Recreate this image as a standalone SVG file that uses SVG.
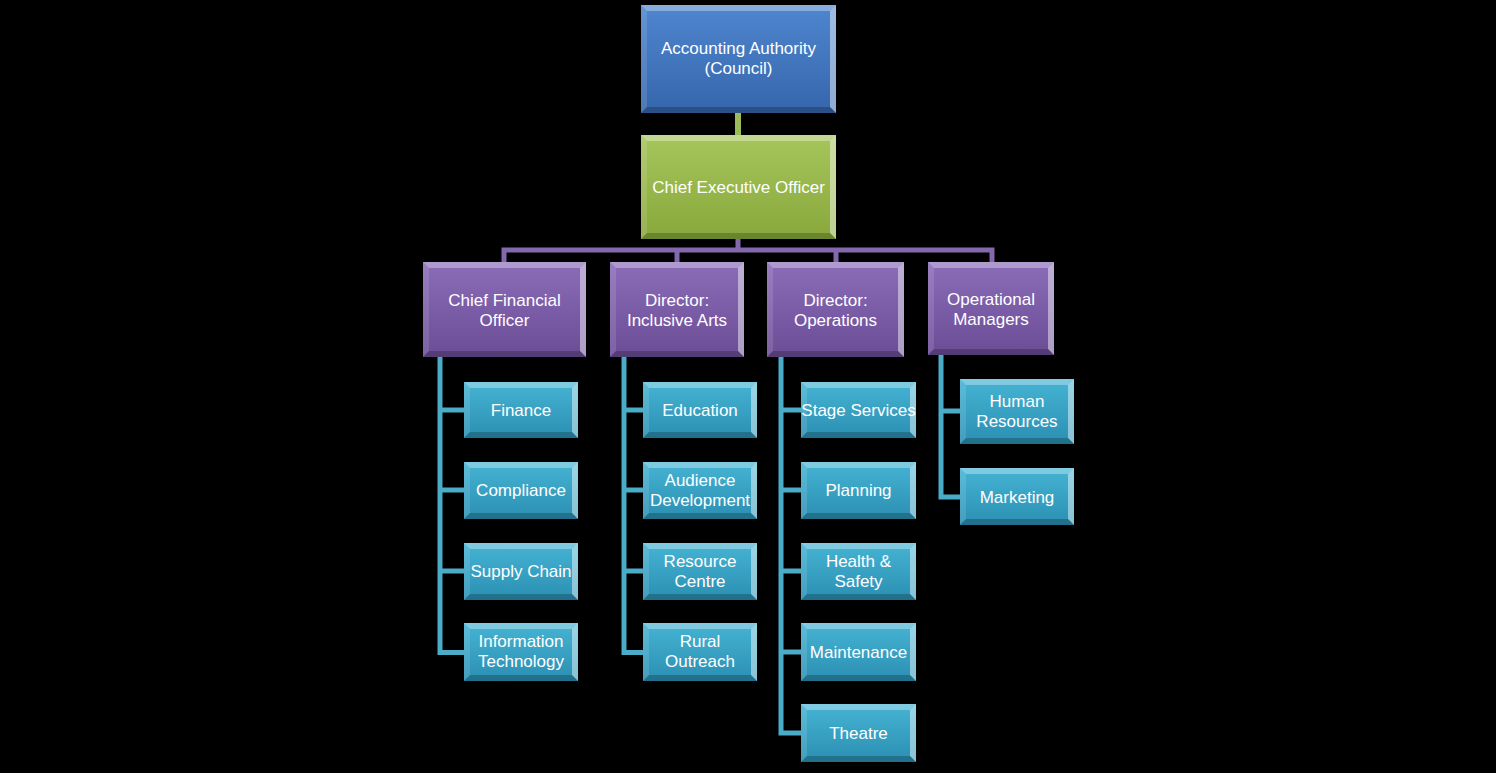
<svg xmlns="http://www.w3.org/2000/svg" width="1496" height="773" viewBox="0 0 1496 773">
<defs>
<linearGradient id="gBlue" x1="0" y1="0" x2="0" y2="1"><stop offset="0" stop-color="#4f86cf"/><stop offset="1" stop-color="#3566ac"/></linearGradient>
<linearGradient id="gGreen" x1="0" y1="0" x2="0" y2="1"><stop offset="0" stop-color="#a6c65c"/><stop offset="1" stop-color="#88a83c"/></linearGradient>
<linearGradient id="gPurple" x1="0" y1="0" x2="0" y2="1"><stop offset="0" stop-color="#8b6cb8"/><stop offset="1" stop-color="#6b4d96"/></linearGradient>
<linearGradient id="gCyan" x1="0" y1="0" x2="0" y2="1"><stop offset="0" stop-color="#46b4d4"/><stop offset="1" stop-color="#2b8fb2"/></linearGradient>
</defs>
<style>
.bg{fill:#000}
.t{font-family:"Liberation Sans",Arial,sans-serif;font-size:17px;fill:#fff;text-anchor:middle;dominant-baseline:central}
.bt{fill:#fff;fill-opacity:.32}
.bl{fill:#fff;fill-opacity:.12}
.br{fill:#fff;fill-opacity:.45}
.bb{fill:#000;fill-opacity:.22}
.cg{stroke:#9bbb59;stroke-width:6;fill:none}
.cp{stroke:#8368ad;stroke-width:5;fill:none}
.cc{stroke:#4aacc6;stroke-width:5;fill:none;stroke-linejoin:miter}
</style>
<rect class="bg" x="0" y="0" width="1496" height="773"/>
<g id="connectors">
<line class="cg" x1="738" y1="113" x2="738" y2="135"/>
<path class="cp" d="M738 239V250M504 262V250H992V262M677 250V262M836 250V262"/>
<path class="cc" d="M440 357V652.5H464M440 410H464M440 490H464M440 571H464"/>
<path class="cc" d="M624 357V652.5H643M624 410H643M624 490H643M624 571H643"/>
<path class="cc" d="M781 357V733H801M781 410H801M781 490H801M781 571H801M781 652H801"/>
<path class="cc" d="M941 355V497H960M941 411H960"/>
</g>
<g id="n-council">
<rect x="641" y="5" width="195" height="108" fill="url(#gBlue)"/>
<polygon class="bt" points="641,5 836,5 830,11 647,11"/><polygon class="bl" points="641,5 647,11 647,107 641,113"/><polygon class="br" points="836,5 836,113 830,107 830,11"/><polygon class="bb" points="641,113 836,113 830,107 647,107"/>
<text class="t" x="738.5" y="48">Accounting Authority</text><text class="t" x="738.5" y="68">(Council)</text>
</g>
<g id="n-ceo">
<rect x="641" y="135" width="195" height="104" fill="url(#gGreen)"/>
<polygon class="bt" points="641,135 836,135 830,141 647,141"/><polygon class="bl" points="641,135 647,141 647,233 641,239"/><polygon class="br" points="836,135 836,239 830,233 830,141"/><polygon class="bb" points="641,239 836,239 830,233 647,233"/>
<text class="t" x="738.5" y="187">Chief Executive Officer</text>
</g>
<g id="n-cfo">
<rect x="423" y="262" width="163" height="95" fill="url(#gPurple)"/>
<polygon class="bt" points="423,262 586,262 580,268 429,268"/><polygon class="bl" points="423,262 429,268 429,351 423,357"/><polygon class="br" points="586,262 586,357 580,351 580,268"/><polygon class="bb" points="423,357 586,357 580,351 429,351"/>
<text class="t" x="504.5" y="300">Chief Financial</text><text class="t" x="504.5" y="320">Officer</text>
</g>
<g id="n-dia">
<rect x="610" y="262" width="134" height="95" fill="url(#gPurple)"/>
<polygon class="bt" points="610,262 744,262 738,268 616,268"/><polygon class="bl" points="610,262 616,268 616,351 610,357"/><polygon class="br" points="744,262 744,357 738,351 738,268"/><polygon class="bb" points="610,357 744,357 738,351 616,351"/>
<text class="t" x="677" y="300">Director:</text><text class="t" x="677" y="320">Inclusive Arts</text>
</g>
<g id="n-dops">
<rect x="767" y="262" width="137" height="95" fill="url(#gPurple)"/>
<polygon class="bt" points="767,262 904,262 898,268 773,268"/><polygon class="bl" points="767,262 773,268 773,351 767,357"/><polygon class="br" points="904,262 904,357 898,351 898,268"/><polygon class="bb" points="767,357 904,357 898,351 773,351"/>
<text class="t" x="835.5" y="300">Director:</text><text class="t" x="835.5" y="320">Operations</text>
</g>
<g id="n-om">
<rect x="928" y="262" width="126" height="93" fill="url(#gPurple)"/>
<polygon class="bt" points="928,262 1054,262 1048,268 934,268"/><polygon class="bl" points="928,262 934,268 934,349 928,355"/><polygon class="br" points="1054,262 1054,355 1048,349 1048,268"/><polygon class="bb" points="928,355 1054,355 1048,349 934,349"/>
<text class="t" x="991" y="299">Operational</text><text class="t" x="991" y="319">Managers</text>
</g>
<g id="n-finance">
<rect x="464" y="382" width="114" height="56" fill="url(#gCyan)"/>
<polygon class="bt" points="464,382 578,382 572,388 470,388"/><polygon class="bl" points="464,382 470,388 470,432 464,438"/><polygon class="br" points="578,382 578,438 572,432 572,388"/><polygon class="bb" points="464,438 578,438 572,432 470,432"/>
<text class="t" x="521" y="410">Finance</text>
</g>
<g id="n-compliance">
<rect x="464" y="462" width="114" height="57" fill="url(#gCyan)"/>
<polygon class="bt" points="464,462 578,462 572,468 470,468"/><polygon class="bl" points="464,462 470,468 470,513 464,519"/><polygon class="br" points="578,462 578,519 572,513 572,468"/><polygon class="bb" points="464,519 578,519 572,513 470,513"/>
<text class="t" x="521" y="490">Compliance</text>
</g>
<g id="n-supply">
<rect x="464" y="543" width="114" height="57" fill="url(#gCyan)"/>
<polygon class="bt" points="464,543 578,543 572,549 470,549"/><polygon class="bl" points="464,543 470,549 470,594 464,600"/><polygon class="br" points="578,543 578,600 572,594 572,549"/><polygon class="bb" points="464,600 578,600 572,594 470,594"/>
<text class="t" x="521" y="571">Supply Chain</text>
</g>
<g id="n-it">
<rect x="464" y="623" width="114" height="58" fill="url(#gCyan)"/>
<polygon class="bt" points="464,623 578,623 572,629 470,629"/><polygon class="bl" points="464,623 470,629 470,675 464,681"/><polygon class="br" points="578,623 578,681 572,675 572,629"/><polygon class="bb" points="464,681 578,681 572,675 470,675"/>
<text class="t" x="521" y="641">Information</text><text class="t" x="521" y="661">Technology</text>
</g>
<g id="n-education">
<rect x="643" y="382" width="114" height="56" fill="url(#gCyan)"/>
<polygon class="bt" points="643,382 757,382 751,388 649,388"/><polygon class="bl" points="643,382 649,388 649,432 643,438"/><polygon class="br" points="757,382 757,438 751,432 751,388"/><polygon class="bb" points="643,438 757,438 751,432 649,432"/>
<text class="t" x="700" y="410">Education</text>
</g>
<g id="n-audience">
<rect x="643" y="462" width="114" height="57" fill="url(#gCyan)"/>
<polygon class="bt" points="643,462 757,462 751,468 649,468"/><polygon class="bl" points="643,462 649,468 649,513 643,519"/><polygon class="br" points="757,462 757,519 751,513 751,468"/><polygon class="bb" points="643,519 757,519 751,513 649,513"/>
<text class="t" x="700" y="480">Audience</text><text class="t" x="700" y="500">Development</text>
</g>
<g id="n-resource">
<rect x="643" y="543" width="114" height="57" fill="url(#gCyan)"/>
<polygon class="bt" points="643,543 757,543 751,549 649,549"/><polygon class="bl" points="643,543 649,549 649,594 643,600"/><polygon class="br" points="757,543 757,600 751,594 751,549"/><polygon class="bb" points="643,600 757,600 751,594 649,594"/>
<text class="t" x="700" y="561">Resource</text><text class="t" x="700" y="581">Centre</text>
</g>
<g id="n-rural">
<rect x="643" y="623" width="114" height="58" fill="url(#gCyan)"/>
<polygon class="bt" points="643,623 757,623 751,629 649,629"/><polygon class="bl" points="643,623 649,629 649,675 643,681"/><polygon class="br" points="757,623 757,681 751,675 751,629"/><polygon class="bb" points="643,681 757,681 751,675 649,675"/>
<text class="t" x="700" y="641">Rural</text><text class="t" x="700" y="661">Outreach</text>
</g>
<g id="n-stage">
<rect x="801" y="382" width="115" height="56" fill="url(#gCyan)"/>
<polygon class="bt" points="801,382 916,382 910,388 807,388"/><polygon class="bl" points="801,382 807,388 807,432 801,438"/><polygon class="br" points="916,382 916,438 910,432 910,388"/><polygon class="bb" points="801,438 916,438 910,432 807,432"/>
<text class="t" x="858.5" y="410">Stage Services</text>
</g>
<g id="n-planning">
<rect x="801" y="462" width="115" height="57" fill="url(#gCyan)"/>
<polygon class="bt" points="801,462 916,462 910,468 807,468"/><polygon class="bl" points="801,462 807,468 807,513 801,519"/><polygon class="br" points="916,462 916,519 910,513 910,468"/><polygon class="bb" points="801,519 916,519 910,513 807,513"/>
<text class="t" x="858.5" y="490">Planning</text>
</g>
<g id="n-health">
<rect x="801" y="543" width="115" height="57" fill="url(#gCyan)"/>
<polygon class="bt" points="801,543 916,543 910,549 807,549"/><polygon class="bl" points="801,543 807,549 807,594 801,600"/><polygon class="br" points="916,543 916,600 910,594 910,549"/><polygon class="bb" points="801,600 916,600 910,594 807,594"/>
<text class="t" x="858.5" y="561">Health &amp;</text><text class="t" x="858.5" y="581">Safety</text>
</g>
<g id="n-maintenance">
<rect x="801" y="623" width="115" height="58" fill="url(#gCyan)"/>
<polygon class="bt" points="801,623 916,623 910,629 807,629"/><polygon class="bl" points="801,623 807,629 807,675 801,681"/><polygon class="br" points="916,623 916,681 910,675 910,629"/><polygon class="bb" points="801,681 916,681 910,675 807,675"/>
<text class="t" x="858.5" y="652">Maintenance</text>
</g>
<g id="n-theatre">
<rect x="801" y="704" width="115" height="58" fill="url(#gCyan)"/>
<polygon class="bt" points="801,704 916,704 910,710 807,710"/><polygon class="bl" points="801,704 807,710 807,756 801,762"/><polygon class="br" points="916,704 916,762 910,756 910,710"/><polygon class="bb" points="801,762 916,762 910,756 807,756"/>
<text class="t" x="858.5" y="733">Theatre</text>
</g>
<g id="n-hr">
<rect x="960" y="379" width="114" height="65" fill="url(#gCyan)"/>
<polygon class="bt" points="960,379 1074,379 1068,385 966,385"/><polygon class="bl" points="960,379 966,385 966,438 960,444"/><polygon class="br" points="1074,379 1074,444 1068,438 1068,385"/><polygon class="bb" points="960,444 1074,444 1068,438 966,438"/>
<text class="t" x="1017" y="401">Human</text><text class="t" x="1017" y="421">Resources</text>
</g>
<g id="n-marketing">
<rect x="960" y="468" width="114" height="57" fill="url(#gCyan)"/>
<polygon class="bt" points="960,468 1074,468 1068,474 966,474"/><polygon class="bl" points="960,468 966,474 966,519 960,525"/><polygon class="br" points="1074,468 1074,525 1068,519 1068,474"/><polygon class="bb" points="960,525 1074,525 1068,519 966,519"/>
<text class="t" x="1017" y="497">Marketing</text>
</g>
</svg>
